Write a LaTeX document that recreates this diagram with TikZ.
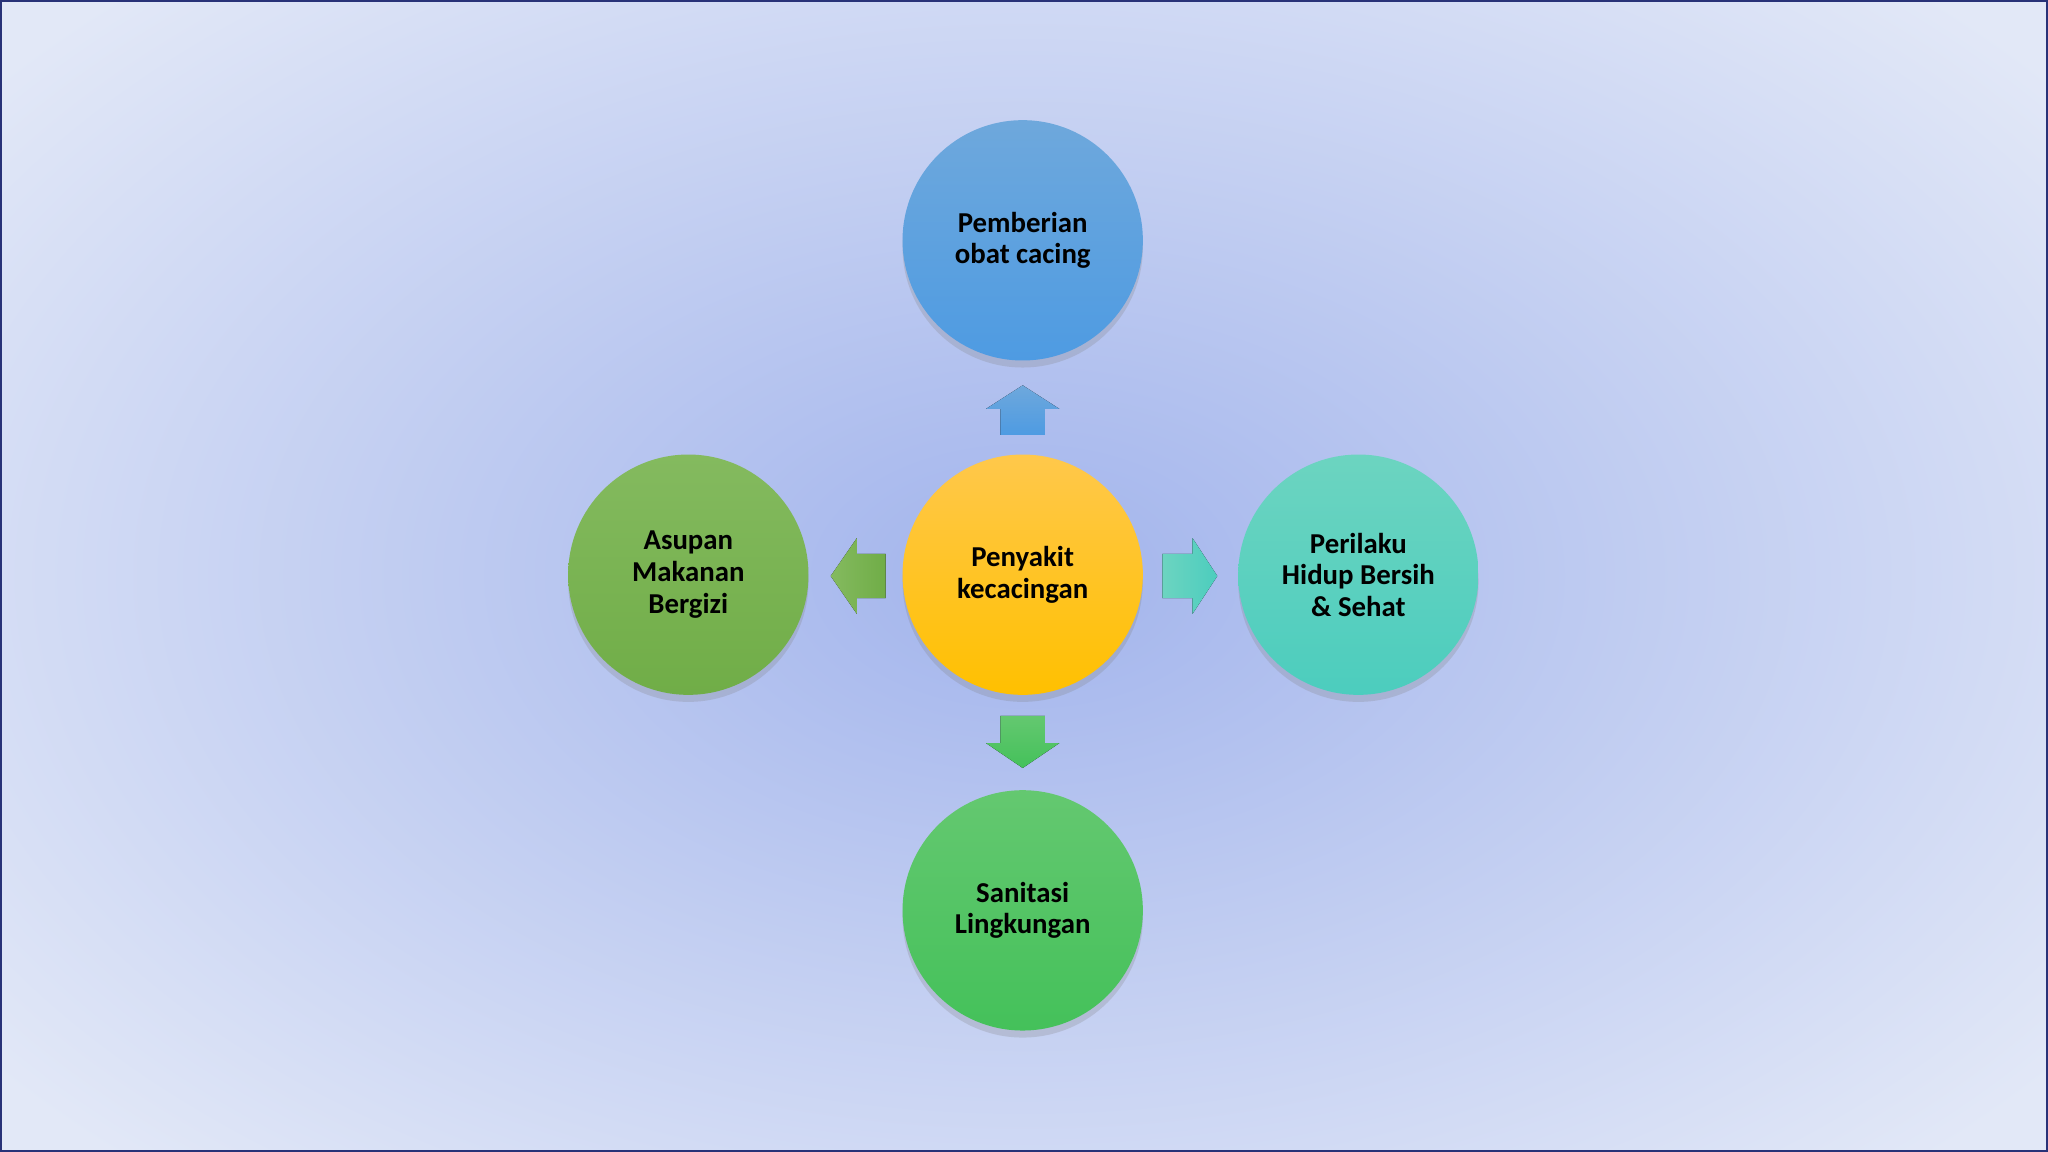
\documentclass[tikz,border=0pt]{standalone}
\usepackage{fontspec}
\setmainfont{Carlito}
\usetikzlibrary{shadows}
\definecolor{bgin}{HTML}{A2B4EC}
\definecolor{bgout}{HTML}{E2E8F7}
\tikzset{
  circ/.style={circle, minimum size=184*0.013061cm, inner sep=0pt, align=center,
    font=\bfseries\fontsize{8.2}{9}\selectfont, text=black,
    drop shadow={shadow xshift=0pt, shadow yshift=-2pt, opacity=0.25}},
  arr/.style={draw=none}
}
\begin{document}
\begin{tikzpicture}[x=0.013061cm,y=-0.013061cm]
\useasboundingbox (0,0) rectangle (1568,882);
\shade[inner color=bgin, outer color=bgout] (0,0) rectangle (1568,882);
\begin{scope}
\clip (0,0) rectangle (1568,882);
\shade[inner color=bgin, outer color=bgout] (784,441) ellipse (1000 and 620);
\end{scope}
\draw[color={rgb,255:red,40;green,50;blue,120}, line width=0.6pt] (0.5,0.5) rectangle (1567.5,881.5);
\node[circ, top color={rgb,255:red,110;green,168;blue,220}, bottom color={rgb,255:red,78;green,155;blue,226}] (top) at (783,184) {Pemberian\\obat cacing};
\node[circ, top color={rgb,255:red,255;green,200;blue,75}, bottom color={rgb,255:red,255;green,192;blue,0}] (c) at (783,440) {Penyakit\\kecacingan};
\node[circ, top color={rgb,255:red,132;green,186;blue,95}, bottom color={rgb,255:red,112;green,173;blue,71}] (l) at (527,440) {Asupan\\Makanan\\Bergizi};
\node[circ, top color={rgb,255:red,108;green,212;blue,192}, bottom color={rgb,255:red,76;green,205;blue,190}] (r) at (1040,440) {Perilaku\\Hidup Bersih\\\& Sehat};
\node[circ, top color={rgb,255:red,100;green,200;blue,112}, bottom color={rgb,255:red,68;green,193;blue,90}] (b) at (783,697) {Sanitasi\\Lingkungan};
% arrows
\fill[top color={rgb,255:red,110;green,168;blue,220}, bottom color={rgb,255:red,78;green,155;blue,226}]
 (783,295) -- (811,313) -- (800,313) -- (800,333) -- (766,333) -- (766,313) -- (755,313) -- cycle;
\fill[top color={rgb,255:red,100;green,200;blue,112}, bottom color={rgb,255:red,68;green,193;blue,90}]
 (783,588) -- (811,569) -- (800,569) -- (800,548) -- (766,548) -- (766,569) -- (755,569) -- cycle;
\fill[left color={rgb,255:red,108;green,212;blue,192}, right color={rgb,255:red,76;green,205;blue,190}]
 (932,441) -- (913,412) -- (913,424) -- (890,424) -- (890,458) -- (913,458) -- (913,470) -- cycle;
\fill[left color={rgb,255:red,132;green,186;blue,95}, right color={rgb,255:red,112;green,173;blue,71}]
 (636,441) -- (656,412) -- (656,424) -- (678,424) -- (678,458) -- (656,458) -- (656,470) -- cycle;
\end{tikzpicture}
\end{document}
